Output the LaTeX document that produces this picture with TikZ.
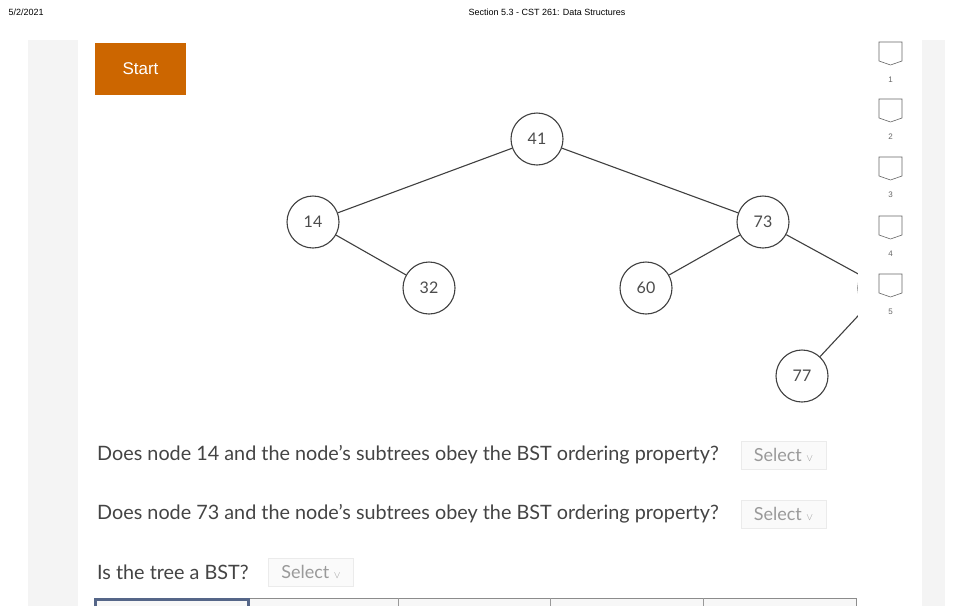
\documentclass[tikz,border=0pt]{standalone}
\usepackage{fontspec}
\setmainfont{Lato}
\newfontfamily\hdr{Liberation Sans}
\definecolor{txt}{HTML}{444444}
\definecolor{sel}{HTML}{9A9A9A}
\definecolor{orng}{HTML}{CC6600}
\definecolor{bgg}{HTML}{F4F4F4}
\definecolor{tabb}{HTML}{556688}
\tikzset{
 tn/.style={circle,draw=black!75,line width=1.1pt,minimum size=52pt,inner sep=0pt,font=\fontsize{16}{16}\selectfont,text=black!70},
 edge/.style={draw=black!75,line width=1.1pt},
 q/.style={anchor=west,inner sep=0pt,font=\fontsize{19.8}{22}\selectfont,text=txt},
 selbox/.style={draw=black!8,fill=black!2,minimum width=85pt,minimum height=28pt,inner sep=0pt,font=\fontsize{18}{20}\selectfont,text=sel},
 badge/.style={draw=black!60,line width=0.6pt,fill=white},
 blab/.style={font=\hdr\fontsize{8}{8}\selectfont,text=black!60},
}
\begin{document}
\begin{tikzpicture}[x=1pt,y=-1pt]
\useasboundingbox (0,0) rectangle (966,606);
\fill[white] (0,0) rectangle (966,606);
\fill[bgg] (28,40) rectangle (945,606);
\fill[white] (78,40) rectangle (922,606);
\node[font=\hdr\fontsize{9}{9}\selectfont,anchor=west] (date) at (5,12) {5/2/2021};
\node[font=\hdr\fontsize{9}{9}\selectfont] (title) at (547,12) {Section 5.3 - CST 261: Data Structures};
\node[fill=orng,minimum width=91pt,minimum height=52pt,inner sep=0pt,text=white,font=\hdr\fontsize{17}{17}\selectfont] (start) at (140.5,69) {Start};
% tree
\node[tn] (n41) at (537,139) {41};
\node[tn] (n14) at (313,222) {14};
\node[tn] (n73) at (763,222) {73};
\node[tn] (n32) at (429,288) {32};
\node[tn] (n60) at (646,288) {60};
\node[tn] (nh) at (884,288) {};
\node[tn] (n77) at (802,376) {77};
\draw[edge] (n41) -- (n14);
\draw[edge] (n41) -- (n73);
\draw[edge] (n14) -- (n32);
\draw[edge] (n73) -- (n60);
\draw[edge] (n73) -- (nh);
\draw[edge] (nh) -- (n77);
\fill[white] (858,40) rectangle (921,420);
% badges
\foreach \i/\y in {1/42,2/99,3/157,4/216,5/274}{
  \draw[badge] (879,\y) -- (902,\y) -- (902,\y+19) -- (890.5,\y+23) -- (879,\y+19) -- cycle;
  \node[blab] (b\i) at (890.5,\y+38) {\i};
}
% questions
\node[q] (q1) at (97,455) {Does node 14 and the node's subtrees obey the BST ordering property?};
\node[selbox] (s1) at (783.5,455) {Select \fontsize{10}{10}\selectfont$\vee$};
\node[q] (q2) at (97,514) {Does node 73 and the node's subtrees obey the BST ordering property?};
\node[selbox] (s2) at (783.5,514) {Select \fontsize{10}{10}\selectfont$\vee$};
\node[q] (q3) at (97,572) {Is the tree a BST?};
\node[selbox] (s3) at (311,572) {Select \fontsize{10}{10}\selectfont$\vee$};
% table top
\fill[black!3] (94,598) rectangle (856,606);
\draw[black!45,line width=1pt] (94,606) -- (94,598) -- (856,598) -- (856,606);
\foreach \x in {398,550,703}{\draw[black!40,line width=1pt] (\x,598) -- (\x,606);}
\draw[tabb,line width=3pt] (95,606) -- (95,599.5) -- (248,599.5) -- (248,606);
\end{tikzpicture}
\end{document}
